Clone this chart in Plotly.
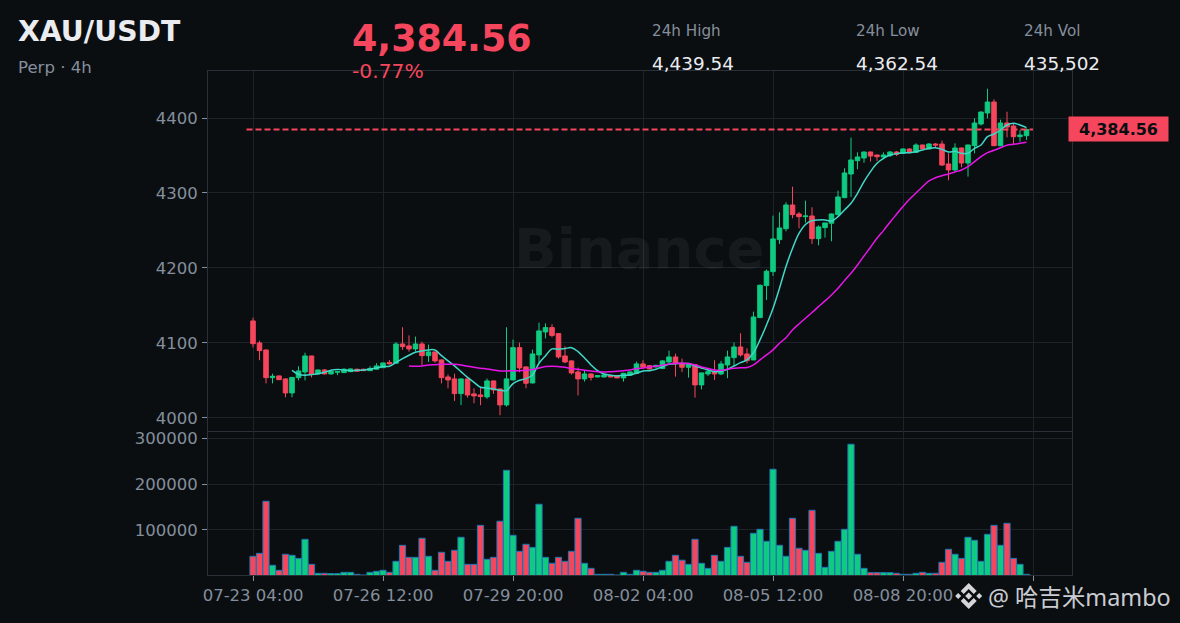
import pandas as pd
import plotly.graph_objects as go
from plotly.subplots import make_subplots

BG = "#0b0e11"
GRID = "#1e2329"
FRAME = "#2b3139"
MUTED = "#848e9c"
TEXT = "#eaecef"
RED = "#f6465d"
GREEN = "#0ecb81"

opens = [4129.3, 4100, 4090.6, 4053.7, 4056, 4052, 4033.3, 4053.7, 4061.3, 4082.6,
         4058.6, 4064, 4058.6, 4061, 4060.4, 4061.7, 4064.9, 4064.9, 4063, 4065,
         4067, 4074, 4072.9, 4098.6, 4096, 4092, 4098.6, 4083, 4088, 4077.3,
         4054.6, 4052, 4032.4, 4052, 4032, 4030.6, 4028, 4049.3, 4038.6, 4017.3,
         4050.6, 4093.7, 4068, 4046.6, 4084, 4114.6, 4120.4, 4112.4, 4082.6, 4076,
         4061.3, 4052, 4058.6, 4054.6, 4054.6, 4056.4, 4056.4, 4053.3, 4056.9, 4059.5,
         4072, 4069.7, 4068, 4066, 4074.6, 4081.3, 4072.9, 4067.5, 4071, 4044,
         4058.6, 4062, 4058.6, 4070.6, 4080.4, 4094.6, 4085.3, 4077.3, 4133.8, 4176.5,
         4195.1, 4237.8, 4252.4, 4284, 4272, 4268.4, 4269.3, 4239.1, 4253.8, 4259.6,
         4271.1, 4293.8, 4325.3, 4343.1, 4346.7, 4354.7, 4350.7, 4348, 4349.8, 4354.7,
         4352.9, 4358.7, 4354.2, 4364, 4358.7, 4365.3, 4365.3, 4338.7, 4330.7, 4360,
         4340, 4363.1, 4392, 4406.7, 4421.3, 4363.1, 4393.3, 4389.3, 4375.1, 4376.4]
highs = [4133.7, 4103, 4091, 4059, 4056.5, 4052.5, 4054, 4068.9, 4087, 4082.6,
         4064, 4065, 4062.5, 4062, 4066, 4066, 4065.5, 4065.5, 4068.9, 4072.9,
         4073.5, 4077, 4101, 4120.9, 4110, 4108.4, 4101.7, 4097.7, 4088, 4078,
         4058, 4059, 4052.5, 4052, 4039.5, 4040.9, 4052.4, 4049.5, 4039, 4120.9,
         4104.4, 4100.4, 4069, 4091, 4127, 4126, 4125, 4113, 4095.5, 4076.5,
         4067, 4062.6, 4059.5, 4057, 4058, 4057, 4057, 4060, 4062, 4075,
         4076.9, 4070.5, 4071, 4077, 4089.7, 4085.7, 4079, 4072, 4072, 4060,
         4066, 4076.9, 4076, 4089.7, 4100.4, 4112.9, 4092.9, 4141.7, 4178, 4198,
         4269.8, 4274.2, 4287.6, 4308.4, 4274.7, 4289.8, 4280.9, 4256.9, 4260, 4272.7,
         4303.1, 4332.9, 4373.8, 4354.2, 4355, 4355, 4351, 4354.2, 4356, 4356,
         4359.5, 4359.5, 4366.2, 4364.5, 4366.5, 4366.7, 4370, 4352.9, 4366.2, 4360.5,
         4364.5, 4399.6, 4408.5, 4439.1, 4424.9, 4397.8, 4408.4, 4392, 4384, 4386]
lows = [4094, 4077, 4046, 4046, 4051, 4027.5, 4027.5, 4050, 4050, 4054,
        4058, 4058, 4058, 4057, 4060, 4061, 4062, 4062.5, 4062.5, 4064.5,
        4066.5, 4071.5, 4072, 4090.6, 4088.4, 4088.4, 4070.6, 4074.6, 4073.7, 4046,
        4039.5, 4022.6, 4017, 4027, 4019.5, 4016.9, 4025.3, 4032, 4003.5, 4015,
        4050, 4060.8, 4039.5, 4046, 4073, 4106, 4107.5, 4079, 4073, 4057.7,
        4030, 4048.4, 4049.7, 4054, 4054, 4054, 4053, 4048.4, 4056, 4059,
        4066, 4064.5, 4067, 4065, 4072.9, 4055, 4061, 4053.7, 4027, 4038,
        4056, 4050.6, 4057, 4052.9, 4068.4, 4081.7, 4072.9, 4077, 4133, 4157.3,
        4189.3, 4232, 4248.9, 4266.2, 4252.9, 4260.4, 4232, 4230.2, 4240.4, 4235.6,
        4270, 4293, 4294.7, 4331.6, 4340.4, 4341.8, 4342.7, 4345, 4348, 4349.3,
        4352, 4353, 4353.5, 4358, 4358, 4360.4, 4336, 4316.9, 4328.4, 4334.2,
        4321.8, 4352.9, 4390, 4399.6, 4362.5, 4362.5, 4374.2, 4365.3, 4368.4, 4370.7]
closes = [4099, 4089.7, 4053.7, 4055.5, 4051, 4033.3, 4054, 4062.6, 4082.6, 4058.6,
          4064, 4058.6, 4062, 4061.5, 4064.9, 4065.3, 4062.2, 4063, 4066, 4069.3,
          4073.3, 4072, 4098.6, 4095, 4092, 4098.6, 4083, 4088, 4076, 4053.7,
          4050.6, 4032.4, 4052, 4030.6, 4029.3, 4028.4, 4049.3, 4037.3, 4017.3, 4052,
          4093.7, 4066.6, 4046.2, 4085.3, 4116, 4120.4, 4110, 4081.3, 4074.6, 4060,
          4052, 4058.6, 4054, 4056.4, 4057.3, 4054.6, 4053.3, 4059.5, 4061.3, 4072,
          4067.5, 4065.3, 4070, 4076, 4081.3, 4072, 4067.5, 4071.5, 4044, 4060,
          4061.7, 4058.6, 4072, 4081.3, 4094.6, 4084, 4076.4, 4134.6, 4176.9, 4195.6,
          4238.7, 4253.3, 4284, 4271.1, 4268.4, 4269.3, 4239.1, 4254.7, 4260, 4272,
          4294.7, 4326.7, 4344, 4348, 4354.7, 4349.3, 4348.4, 4350.7, 4354.7, 4351.6,
          4358.7, 4353.8, 4364, 4358.7, 4365.3, 4364, 4337.3, 4330.7, 4360, 4340,
          4364, 4393.3, 4408, 4421.3, 4363.1, 4393.3, 4388, 4375.1, 4377.3, 4384.56]
volumes = [42500, 49000, 162500, 23000, 12000, 47000, 44700, 38000, 79600, 25000,
           5500, 5500, 4700, 4700, 7600, 7600, 3300, 1800, 7600, 9800,
           12000, 7600, 31600, 66500, 40300, 40300, 81800, 42500, 12000, 51300,
           31600, 55600, 84000, 25000, 25000, 110000, 36000, 40300, 119000, 230000,
           88300, 53400, 68700, 62000, 156000, 40300, 27300, 40300, 31600, 53400,
           125400, 27300, 16300, 3300, 3300, 3300, 1800, 7600, 3300, 12000,
           9800, 7600, 7600, 12000, 31600, 44700, 34000, 25000, 79600, 27300,
           16300, 44700, 31600, 62000, 108000, 42500, 29400, 92700, 101400, 75200,
           232300, 66500, 42500, 125400, 60000, 55600, 142900, 49000, 18500, 53400,
           75200, 101400, 286800, 47000, 16300, 6900, 6900, 6900, 6900, 5500,
           3300, 3300, 5500, 7600, 5500, 5500, 29400, 57800, 47000, 38000,
           84000, 77400, 31600, 90500, 110000, 66500, 114500, 38000, 25000, 3300]
# starts at candle 6
ma_fast = [4063.5, 4058.2, 4056.9, 4057.7, 4059, 4060.9, 4063.5, 4064.4, 4064, 4063,
           4063.5, 4064, 4064.9, 4066.6, 4068.4, 4068.9, 4074, 4079, 4083.5, 4087.5,
           4089.3, 4090.6, 4090.6, 4083, 4076, 4069.3, 4061.7, 4054, 4047.5, 4040.9,
           4040, 4038.6, 4036.9, 4036.4, 4045.8, 4050.2, 4052.4, 4057.3, 4072.9, 4083,
           4092, 4091.5, 4092.4, 4093.7, 4088.4, 4080, 4070.6, 4063, 4058.6, 4056.9,
           4056, 4056.9, 4057.3, 4059.5, 4062.6, 4063, 4064.9, 4068.4, 4071.5, 4072.4,
           4072.4, 4072.4, 4069.3, 4066.6, 4064, 4061.7, 4062.2, 4064.9, 4069.3, 4073.7,
           4077.3, 4087, 4104, 4124, 4146, 4173, 4202, 4226, 4246, 4258,
           4263.1, 4264, 4264, 4262.7, 4268.4, 4277.3, 4286.2, 4299.6, 4315, 4328.4,
           4339.6, 4346.2, 4350.7, 4352.4, 4353.3, 4353.8, 4355.1, 4357.3, 4359.6, 4360.4,
           4358.2, 4354.7, 4355.6, 4352.9, 4352.9, 4359.6, 4364, 4375.1, 4378.7, 4384,
           4390.7, 4392.9, 4390.7, 4387.1]
# starts at candle 24
ma_slow = [4069.3, 4068.9, 4069.3, 4070.6, 4071, 4071.5, 4071.5, 4071.5, 4070.6, 4068.9,
           4067.5, 4066.2, 4065.3, 4064, 4062.6, 4062.6, 4063, 4063, 4063.5, 4064.4,
           4066.6, 4068.4, 4068.9, 4068.4, 4067.5, 4065.8, 4064.9, 4063.5, 4062.6, 4061.7,
           4061.3, 4061.7, 4062.2, 4063, 4064, 4065.8, 4066.6, 4068, 4068.9, 4070.2,
           4072, 4072.9, 4072.9, 4072.4, 4070.6, 4068, 4065.8, 4064, 4063.5, 4064.9,
           4066.2, 4067, 4067.1, 4070.7, 4077.3, 4084, 4090.7, 4099.6, 4107, 4117.3,
           4125.3, 4132.9, 4140.5, 4148.4, 4156, 4164, 4172.9, 4183.1, 4192.9, 4204,
           4216, 4227.6, 4239.6, 4249.8, 4261, 4271.6, 4282, 4291.5, 4300, 4308.4,
           4316, 4320.4, 4323, 4325.4, 4328, 4330.7, 4335.1, 4341.8, 4348.4, 4353.8,
           4356.9, 4360.4, 4363.6, 4364.9, 4366.2, 4367.6]
tick_labels = ["07-23 04:00", "07-26 12:00", "07-29 20:00", "08-02 04:00", "08-05 12:00", "08-08 20:00", ""]

last_price = 4384.56
dates = pd.date_range("2025-07-23 04:00", periods=len(closes), freq="4h")
tick_dates = pd.date_range("2025-07-23 04:00", periods=len(tick_labels), freq="80h")
step = pd.Timedelta(hours=4)
bar_colors = [GREEN if c >= o else RED for o, c in zip(opens, closes)]


# plot area in the page: left 208, right 1072, top 71, bottom 575
def px_x(x):
    return (x - 208) / 864


def px_y(y):
    return (575 - y) / 504


fig = make_subplots(rows=2, cols=1, shared_xaxes=True, vertical_spacing=0, row_heights=[0.714, 0.286])

fig.add_trace(go.Candlestick(
    x=dates, open=opens, high=highs, low=lows, close=closes,
    increasing=dict(line=dict(color=GREEN, width=1), fillcolor=GREEN),
    decreasing=dict(line=dict(color=RED, width=1), fillcolor=RED),
    name="XAU/USDT"), row=1, col=1)
fig.add_trace(go.Scatter(x=dates[6:], y=ma_fast, mode="lines", line=dict(color="#40d8c8", width=1.5, shape="spline"), name="MA7"), row=1, col=1)
fig.add_trace(go.Scatter(x=dates[24:], y=ma_slow, mode="lines", line=dict(color="#e815e8", width=1.5, shape="spline"), name="MA25"), row=1, col=1)
fig.add_trace(go.Scatter(x=[dates[0] - step, dates[-1] + step], y=[last_price, last_price], mode="lines",
                         line=dict(color=RED, width=2, dash="6px,3px"), name="Last"), row=1, col=1)
fig.add_trace(go.Bar(x=dates, y=volumes, marker=dict(color=bar_colors, line=dict(color="#1f77b4", width=1)), name="Vol"), row=2, col=1)


def head(text, x, y, size, color, bold=False):
    fig.add_annotation(text=f"<b>{text}</b>" if bold else text, xref="paper", yref="paper", x=px_x(x - 2), y=px_y(y),
                       xanchor="left", yanchor="middle", showarrow=False, font=dict(size=size, color=color))


head("XAU/USDT", 18, 31, 28.3, TEXT, True)
head("Perp · 4h", 18, 67, 16.6, MUTED)
head("4,384.56", 352, 38, 36.4, RED, True)
head("-0.77%", 352, 71, 20.3, RED)
head("24h High", 652, 31, 15.2, MUTED)
head("4,439.54", 652, 63, 18.4, TEXT)
head("24h Low", 856, 31, 15.2, MUTED)
head("4,362.54", 856, 63, 18.4, TEXT)
head("24h Vol", 1024, 31, 15.2, MUTED)
head("435,502", 1024, 63, 18.4, TEXT)

# watermarks and the price tag
fig.add_annotation(text="<b>Binance</b>", xref="paper", yref="paper", x=px_x(639), y=px_y(248), showarrow=False,
                   xanchor="center", yanchor="middle", font=dict(size=56, color="rgba(255,255,255,0.05)"))
fig.add_annotation(text="<b>4,384.56</b>", xref="paper", yref="paper", x=px_x(1118.5), y=px_y(129), showarrow=False,
                   xanchor="center", yanchor="middle", width=97, height=22, bgcolor=RED, font=dict(size=16, color=BG))
fig.add_annotation(text="@ 哈吉米mambo", xref="paper", yref="paper", x=px_x(986), y=px_y(597), xanchor="left", yanchor="middle",
                   showarrow=False, font=dict(size=23.4, color="#c9ccd1", family="Noto Sans, Noto Sans CJK SC"))

logo_parts = [
    [(0, -13), (8, -5), (5, -2), (0, -7), (-5, -2), (-8, -5)],
    [(0, 13), (8, 5), (5, 2), (0, 7), (-5, 2), (-8, 5)],
    [(0, -3.5), (3.5, 0), (0, 3.5), (-3.5, 0)],
    [(-10.5, -3), (-7.5, 0), (-10.5, 3), (-13.5, 0)],
    [(10.5, -3), (13.5, 0), (10.5, 3), (7.5, 0)],
]
for part in logo_parts:
    path = "M " + " L ".join(f"{px_x(968.7 + dx):.5f},{px_y(596 + dy):.5f}" for dx, dy in part) + " Z"
    fig.add_shape(type="path", path=path, xref="paper", yref="paper", fillcolor="#d4d6d9", line_width=0)

x_start = dates[0] - pd.Timedelta(hours=27.7)
x_end = dates[0] + pd.Timedelta(hours=504)
fig.update_xaxes(type="date", range=[x_start, x_end], tickvals=tick_dates, ticktext=tick_labels,
                 showgrid=True, gridcolor=GRID, gridwidth=1, showline=True, linecolor=FRAME,
                 zeroline=False, rangeslider_visible=False, tickfont=dict(size=16.5, color=MUTED))
fig.update_xaxes(ticks="", showticklabels=False, mirror=True, row=1, col=1)
fig.update_xaxes(ticks="outside", ticklen=5, tickcolor=MUTED, mirror=False, row=2, col=1)
fig.update_yaxes(showgrid=True, gridcolor=GRID, gridwidth=1, showline=True, linecolor=FRAME, mirror=True, zeroline=False,
                 ticks="outside", ticklen=5, tickcolor=MUTED, tickfont=dict(size=16.5, color=MUTED), ticklabelstandoff=1)
fig.update_yaxes(range=[3982.7, 4462.7], tickvals=[4000, 4100, 4200, 4300, 4400], tickformat="d", row=1, col=1)
fig.update_yaxes(range=[1800, 316000], tickvals=[100000, 200000, 300000], tickformat="d", row=2, col=1)

fig.update_layout(
    width=1180,
    height=623,
    margin=dict(l=208, r=108, t=71, b=48),
    paper_bgcolor=BG,
    plot_bgcolor=BG,
    showlegend=False,
    bargap=0.05,
    boxgap=0.3,
    boxgroupgap=0,
    font=dict(family="DejaVu Sans", color=MUTED),
)

fig.write_html("out.html", config={"displayModeBar": False},
               post_script="document.body.style.margin='0';document.body.style.background='#0b0e11';")
